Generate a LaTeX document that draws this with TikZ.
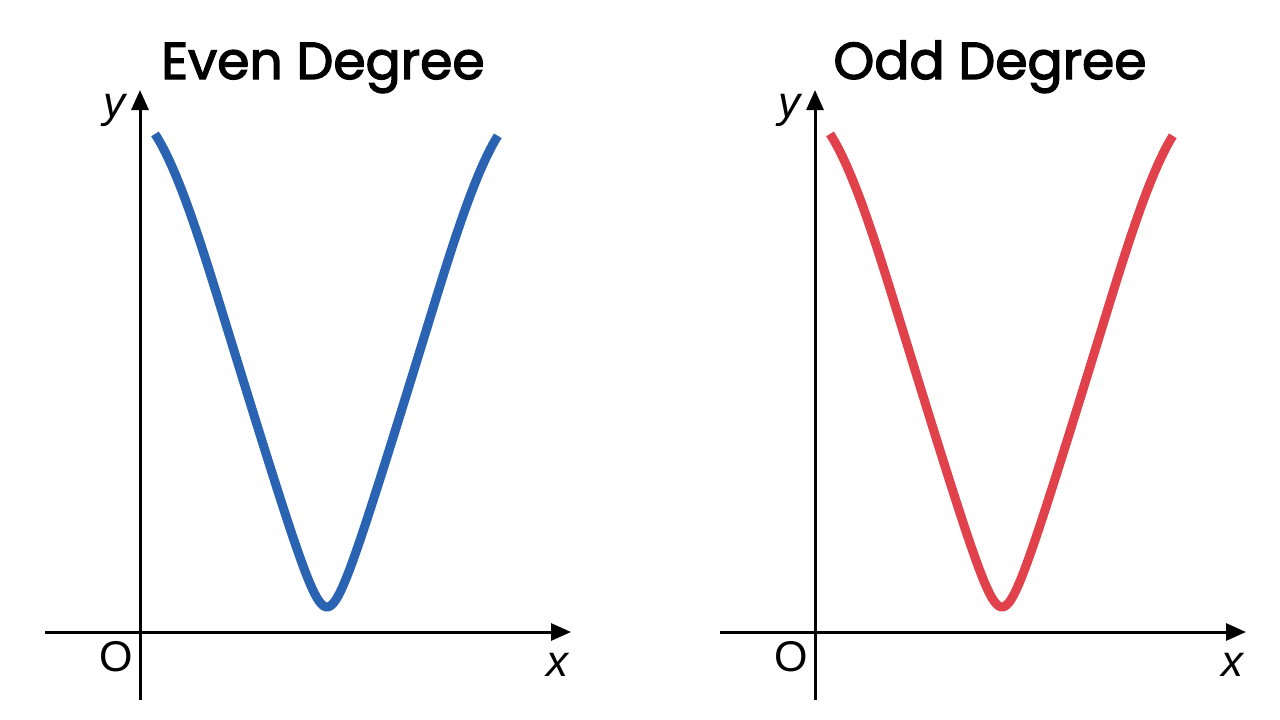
\documentclass[tikz,border=0pt]{standalone}
\usepackage{fontspec}
\setmainfont{Liberation Sans}
\newfontfamily\titlefont{Poppins}[FakeBold=2.5]
\usetikzlibrary{arrows.meta}
\definecolor{curveblue}{HTML}{2A63B1}
\definecolor{curvered}{HTML}{E1414B}
\tikzset{
  axis/.style={line width=3pt, draw=black, -{Triangle[length=20pt,width=17pt]}},
  curve/.style={line width=9pt, line cap=butt, line join=round},
  title/.style={font=\titlefont\fontsize{52}{58}\selectfont, anchor=base, inner sep=0pt},
  lab/.style={font=\fontsize{44}{48}\selectfont\itshape, inner sep=0pt},
  orig/.style={font=\fontsize{43}{47}\selectfont, inner sep=0pt}
}
\begin{document}
\begin{tikzpicture}[x=1pt,y=-1pt]
\useasboundingbox (0,0) rectangle (1280,720);
\fill[white] (0,0) rectangle (1280,720);

% ---------- left panel ----------
\node[title] (t1) at (323,79) {Even Degree};
\coordinate (lyb) at (140,700);
\coordinate (lyt) at (140,90);
\coordinate (lxl) at (45,632);
\coordinate (lxr) at (571,632);
\draw[axis] (lyb) -- (lyt);
\draw[axis] (lxl) -- (lxr);
\node[lab] (ly) at (114,110) {y};
\node[lab] (lx) at (557,665) {x};
\node[orig] (lo) at (116,657) {O};
\draw[curve, curveblue] plot[domain=-1.72:1.71, samples=160]
  ({327+100*\x}, {607 - (330*sqrt(\x*\x+0.0282) - 55.44 - 112*pow(max(0,abs(\x)-1.0),3))});

% ---------- right panel ----------
\begin{scope}[xshift=675pt]
\node[title] (t2) at (315,79) {Odd Degree};
\coordinate (ryb) at (140,700);
\coordinate (ryt) at (140,90);
\coordinate (rxl) at (45,632);
\coordinate (rxr) at (571,632);
\draw[axis] (ryb) -- (ryt);
\draw[axis] (rxl) -- (rxr);
\node[lab] (ry) at (114,110) {y};
\node[lab] (rx) at (557,665) {x};
\node[orig] (ro) at (116,657) {O};
\draw[curve, curvered] plot[domain=-1.72:1.71, samples=160]
  ({327+100*\x}, {607 - (330*sqrt(\x*\x+0.0282) - 55.44 - 112*pow(max(0,abs(\x)-1.0),3))});
\end{scope}
\end{tikzpicture}
\end{document}
